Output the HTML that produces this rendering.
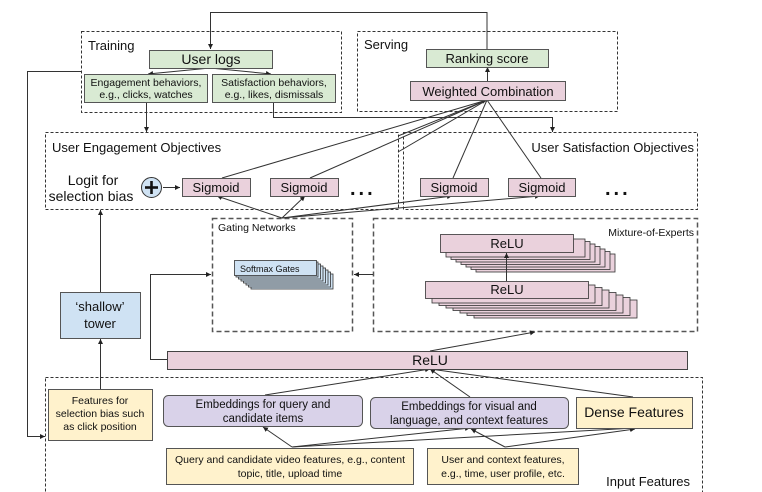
<!DOCTYPE html>
<html><head><meta charset="utf-8"><style>
html,body{margin:0;padding:0;background:#fff}
svg{display:block}
text{font-family:"Liberation Sans",sans-serif;fill:#111}
</style></head><body>
<svg width="762" height="492" viewBox="0 0 762 492" xmlns="http://www.w3.org/2000/svg">
<defs>
<marker id="a" markerWidth="6" markerHeight="6" refX="5" refY="3" orient="auto" markerUnits="userSpaceOnUse"><path d="M0,0.5 L5,3 L0,5.5z" fill="#222"/></marker>
</defs>
<g fill="none" stroke="#333" stroke-width="1">
<rect x="81.5" y="31.5" width="260" height="81" stroke-dasharray="3,2"/>
<rect x="357.5" y="31.5" width="260" height="80" stroke-dasharray="3,2"/>
<rect x="45.5" y="132.5" width="353" height="77" stroke-dasharray="3,2"/>
<rect x="403.5" y="132.5" width="294" height="77" stroke-dasharray="3,2"/>
<rect x="45.5" y="377.5" width="657" height="120" stroke-dasharray="3,2"/>
<rect x="212.5" y="218.5" width="140" height="113" stroke="#555" stroke-width="1.5" stroke-dasharray="5,3"/>
<rect x="373.5" y="218.5" width="324" height="113" stroke="#555" stroke-width="1.5" stroke-dasharray="5,3"/>
</g>
<g stroke="#333" stroke-width="1" fill="none">
<polyline points="487,49 487,12.5 210.5,12.5 210.5,49" marker-end="url(#a)"/>
<polyline points="81,71.5 27.5,71.5 27.5,436.5 45,436.5" marker-end="url(#a)"/>
<line x1="210" y1="68" x2="148" y2="74" marker-end="url(#a)"/>
<line x1="210" y1="68" x2="271" y2="74" marker-end="url(#a)"/>
<line x1="146.5" y1="102" x2="146.5" y2="132" marker-end="url(#a)"/>
<polyline points="273.5,102 273.5,117.5 552.5,117.5 552.5,132" marker-end="url(#a)"/>
<line x1="487.5" y1="81" x2="487.5" y2="67" marker-end="url(#a)"/>
<line x1="222" y1="178" x2="487" y2="100" marker-end="url(#a)"/>
<line x1="310" y1="178" x2="487" y2="100"/>
<line x1="453" y1="178" x2="487" y2="100"/>
<line x1="541" y1="178" x2="487" y2="100"/>
<line x1="398" y1="136" x2="487" y2="100"/>
<line x1="398" y1="152" x2="487" y2="100"/>
<line x1="163" y1="187.5" x2="180" y2="187.5" marker-end="url(#a)"/>
<line x1="282" y1="218" x2="217" y2="196" marker-end="url(#a)"/>
<line x1="282" y1="218" x2="305" y2="196" marker-end="url(#a)"/>
<line x1="282" y1="218" x2="452" y2="196" marker-end="url(#a)"/>
<line x1="282" y1="218" x2="540" y2="196" marker-end="url(#a)"/>
<line x1="373" y1="274.5" x2="354" y2="274.5" marker-end="url(#a)"/>
<polyline points="167,359.5 150.5,359.5 150.5,274.5 211,274.5" marker-end="url(#a)"/>
<line x1="430" y1="351" x2="535" y2="332" marker-end="url(#a)"/>
<line x1="100.5" y1="292" x2="100.5" y2="210" marker-end="url(#a)"/>
<line x1="100.5" y1="389" x2="100.5" y2="339" marker-end="url(#a)"/>
<line x1="265" y1="395" x2="430" y2="369" marker-end="url(#a)"/>
<line x1="470" y1="397" x2="430" y2="369" marker-end="url(#a)"/>
<line x1="633" y1="397" x2="430" y2="369" marker-end="url(#a)"/>
<line x1="292" y1="447" x2="263" y2="427" marker-end="url(#a)"/>
<line x1="292" y1="447" x2="470" y2="428" marker-end="url(#a)"/>
<line x1="292" y1="447" x2="635" y2="428" marker-end="url(#a)"/>
<line x1="505" y1="447" x2="471" y2="429" marker-end="url(#a)"/>
<line x1="505" y1="447" x2="635" y2="429" marker-end="url(#a)"/>
</g>
<g stroke="#555" stroke-width="1">
<rect x="149.5" y="50.5" width="123" height="18" fill="#d9ead3"/>
<rect x="84.5" y="74.5" width="123" height="28" fill="#d9ead3"/>
<rect x="212.5" y="74.5" width="123" height="28" fill="#d9ead3"/>
<rect x="426.5" y="49.5" width="122" height="18" fill="#d9ead3"/>
<rect x="410.5" y="81.5" width="155" height="19" fill="#ead1dc"/>
<rect x="182.5" y="178.5" width="68" height="18" fill="#ead1dc"/>
<rect x="270.5" y="178.5" width="68" height="18" fill="#ead1dc"/>
<rect x="420.5" y="178.5" width="68" height="18" fill="#ead1dc"/>
<rect x="508.5" y="178.5" width="67" height="18" fill="#ead1dc"/>
<circle cx="151.5" cy="187.5" r="10" fill="#cfe2f3" stroke="#333"/>
<rect x="60.5" y="292.5" width="80" height="46" fill="#cfe2f3"/>
<rect x="167.5" y="351.5" width="520" height="18" fill="#ead1dc" stroke="#444"/>
<rect x="48.5" y="389.5" width="104" height="51" fill="#fff2cc"/>
<rect x="163.5" y="395.5" width="199" height="31" rx="5" fill="#d9d2e9"/>
<rect x="370.5" y="397.5" width="198" height="31" rx="5" fill="#d9d2e9"/>
<rect x="576.5" y="397.5" width="116" height="31" fill="#fff2cc"/>
<rect x="166.5" y="448.5" width="247" height="36" fill="#fff2cc"/>
<rect x="427.5" y="448.5" width="151" height="36" fill="#fff2cc"/>
</g>
<g stroke="#333" stroke-width="0.8" fill="#cfe2f3">
<rect x="251" y="274" width="82" height="15"/><rect x="248.5" y="272" width="82" height="15"/><rect x="246" y="270" width="82" height="15"/><rect x="243.5" y="268" width="82" height="15"/><rect x="241" y="266" width="82" height="15"/><rect x="238.5" y="264" width="82" height="15"/><rect x="236" y="262" width="82" height="15"/><rect x="234.5" y="260.5" width="82" height="15"/>
</g>
<g stroke="#333" stroke-width="0.8" fill="#ead1dc">
<rect x="476" y="254" width="139" height="18"/><rect x="471" y="251.5" width="139" height="18"/><rect x="466" y="249" width="139" height="18"/><rect x="461" y="246.5" width="139" height="18"/><rect x="456" y="244" width="139" height="18"/><rect x="451" y="241.5" width="139" height="18"/><rect x="446" y="239" width="139" height="18"/><rect x="440.5" y="234.5" width="133" height="18"/>
<rect x="474" y="300" width="163" height="18"/><rect x="467" y="297.5" width="163" height="18"/><rect x="460" y="295" width="163" height="18"/><rect x="453" y="292.5" width="163" height="18"/><rect x="446" y="290" width="163" height="18"/><rect x="439" y="287.5" width="163" height="18"/><rect x="432" y="285" width="163" height="18"/><rect x="425.5" y="281.5" width="163" height="17"/>
</g>
<line x1="506.5" y1="281" x2="506.5" y2="253" stroke="#333" marker-end="url(#a)"/>
<line x1="145" y1="187.5" x2="158" y2="187.5" stroke="#111" stroke-width="2.6"/>
<line x1="151.5" y1="181" x2="151.5" y2="194" stroke="#111" stroke-width="2.6"/>
<g font-size="13">
<text x="88" y="50">Training</text>
<text x="364" y="49">Serving</text>
<text x="211" y="64" text-anchor="middle" font-size="14">User logs</text>
<text x="487" y="63" text-anchor="middle">Ranking score</text>
<text x="488" y="96" text-anchor="middle">Weighted Combination</text>
<text x="52" y="152">User Engagement Objectives</text>
<text x="694" y="152" text-anchor="end">User Satisfaction Objectives</text>
<text x="93" y="185" text-anchor="middle" font-size="14">Logit for</text>
<text x="91" y="201" text-anchor="middle" font-size="14">selection bias</text>
<text x="216" y="192" text-anchor="middle">Sigmoid</text>
<text x="304" y="192" text-anchor="middle">Sigmoid</text>
<text x="454" y="192" text-anchor="middle">Sigmoid</text>
<text x="542" y="192" text-anchor="middle">Sigmoid</text>
<text x="100" y="311" text-anchor="middle">‘shallow’</text>
<text x="100" y="328" text-anchor="middle">tower</text>
<text x="430" y="365" text-anchor="middle" font-size="14">ReLU</text>
<text x="507" y="248" text-anchor="middle">ReLU</text>
<text x="507" y="294" text-anchor="middle">ReLU</text>
<text x="634" y="417" text-anchor="middle" font-size="14">Dense Features</text>
<text x="690" y="486" text-anchor="end">Input Features</text>
</g>
<g font-size="20" font-weight="bold"><text x="350" y="195" letter-spacing="3">...</text><text x="605" y="195" letter-spacing="3">...</text></g>
<g font-size="10.5">
<text x="146" y="86" text-anchor="middle">Engagement behaviors,</text>
<text x="146" y="98" text-anchor="middle">e.g., clicks, watches</text>
<text x="274" y="86" text-anchor="middle">Satisfaction behaviors,</text>
<text x="274" y="98" text-anchor="middle">e.g., likes, dismissals</text>
<text x="218" y="231">Gating Networks</text>
<text x="694" y="236" text-anchor="end">Mixture-of-Experts</text>
<text x="240" y="272" font-size="9">Softmax Gates</text>
<text x="100" y="404" text-anchor="middle">Features for</text>
<text x="100" y="417" text-anchor="middle">selection bias such</text>
<text x="100" y="430" text-anchor="middle">as click position</text>
<text x="263" y="408" text-anchor="middle" font-size="11.5">Embeddings for query and</text>
<text x="263" y="422" text-anchor="middle" font-size="11.5">candidate items</text>
<text x="469" y="410" text-anchor="middle" font-size="11.5">Embeddings for visual and</text>
<text x="469" y="424" text-anchor="middle" font-size="11.5">language, and context features</text>
<text x="290" y="463" text-anchor="middle">Query and candidate video features, e.g., content</text>
<text x="290" y="477" text-anchor="middle">topic, title, upload time</text>
<text x="503" y="463" text-anchor="middle">User and context features,</text>
<text x="503" y="477" text-anchor="middle">e.g., time, user profile, etc.</text>
</g>
</svg>
</body></html>
